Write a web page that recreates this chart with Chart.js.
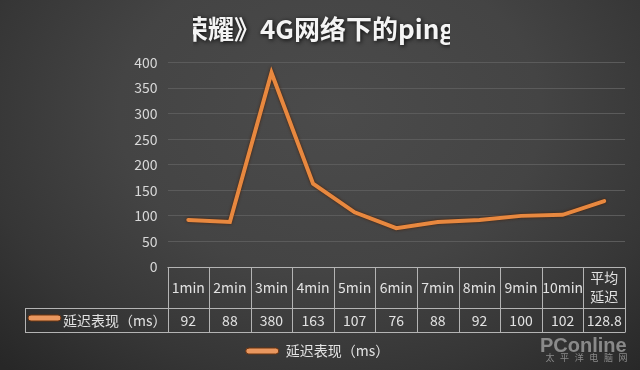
<!DOCTYPE html>
<html><head><meta charset="utf-8">
<script src="https://cdn.jsdelivr.net/npm/chart.js@4"></script>
<style>html,body{margin:0;padding:0;background:#2c2c2c;overflow:hidden}#wrap{width:640px;height:370px}</style>
</head><body><div id="wrap"><canvas id="c" width="640" height="370"></canvas></div>
<script>
// ---- data ----
const categories = ['1min','2min','3min','4min','5min','6min','7min','8min','9min','10min',['平均','延迟']];
const latency = [92, 88, 380, 163, 107, 76, 88, 92, 100, 102, 128.8];
const seriesName = '延迟表现（ms）';
const yMin = 0, yMax = 400, yStep = 50;
const titleFull = '《王者荣耀》4G网络下的ping值';
const titleHiddenPrefix = '《王者';
const watermark = 'PConline';
const watermarkSub = ['太','平','洋','电','脑','网'];

const F = "'Noto Sans CJK SC', 'Noto Sans', sans-serif";
const ORANGE = '#E8883F';
const TABLE_LINE = '#b4b4b4';
const TEXT = '#e2e2e2';

const bgPlugin = {
  id: 'bg',
  beforeDraw(chart) {
    const c = chart.ctx;
    c.save();
    c.setTransform(1, 0, 0, 0.75, 0, 0);
    const g = c.createRadialGradient(330, 150, 0, 330, 150, 470);
    g.addColorStop(0, '#4b4b4b');
    g.addColorStop(0.45, '#444444');
    g.addColorStop(0.75, '#363636');
    g.addColorStop(1, '#272727');
    c.fillStyle = g;
    c.fillRect(0, 0, 640, 370 / 0.75);
    c.restore();
  }
};

const lineShadow = {
  id: 'lineShadow',
  beforeDatasetDraw(chart) {
    const c = chart.ctx;
    c.save();
    c.shadowColor = 'rgba(70,28,4,0.95)';
    c.shadowBlur = 3;
  },
  afterDatasetDraw(chart) { chart.ctx.restore(); }
};

const titlePlugin = {
  id: 'clippedTitle',
  afterDraw(chart) {
    const c = chart.ctx;
    c.save();
    c.beginPath();
    c.rect(193, 0, 450 - 193, 60);
    c.clip();
    c.font = 'bold 26px ' + F;
    c.textBaseline = 'middle';
    c.textAlign = 'left';
    const x0 = 182 - c.measureText(titleHiddenPrefix).width;
    c.shadowColor = 'rgba(0,0,0,0.85)';
    c.shadowBlur = 4;
    c.shadowOffsetX = 1;
    c.shadowOffsetY = 1;
    c.fillStyle = '#f4f4f4';
    c.fillText(titleFull, x0, 29);
    c.restore();
  }
};

const tablePlugin = {
  id: 'dataTable',
  afterDraw(chart) {
    const c = chart.ctx;
    const xs = chart.scales.x;
    const area = chart.chartArea;
    const top = area.bottom, bottom = xs.bottom, mid = bottom - 24;
    const leftCell = 25;
    const n = chart.data.labels.length;
    c.save();
    c.strokeStyle = TABLE_LINE;
    c.lineWidth = 1;
    const h = (x1, x2, y) => { c.beginPath(); c.moveTo(x1, Math.round(y) + 0.5); c.lineTo(x2, Math.round(y) + 0.5); c.stroke(); };
    const v = (x, y1, y2) => { c.beginPath(); c.moveTo(Math.round(x) + 0.5, y1); c.lineTo(Math.round(x) + 0.5, y2); c.stroke(); };
    h(area.left, area.right, top);
    h(leftCell, area.right, mid);
    h(leftCell, area.right, bottom);
    v(leftCell, Math.round(mid) + 0.5, Math.round(bottom) + 0.5);
    for (let i = 0; i <= n; i++) {
      let x;
      if (i === 0) x = area.left;
      else if (i === n) x = area.right;
      else x = (xs.getPixelForValue(i - 1) + xs.getPixelForValue(i)) / 2;
      v(x, Math.round(top) + 0.5, Math.round(bottom) + 0.5);
    }
    // values row
    c.font = '14px ' + F;
    c.fillStyle = TEXT;
    c.textAlign = 'center';
    c.textBaseline = 'middle';
    const ds = chart.data.datasets[0];
    ds.data.forEach((val, i) => c.fillText(String(val), xs.getPixelForValue(i), (mid + bottom) / 2 + 0.5));
    // row header: swatch + label
    c.beginPath();
    c.roundRect(28, 315, 33, 6, 3);
    c.fillStyle = '#E9975F';
    c.fill();
    c.strokeStyle = '#6b3411';
    c.stroke();
    c.fillStyle = TEXT;
    c.textAlign = 'left';
    c.fillText(ds.label, 63, (mid + bottom) / 2 + 0.5);
    // watermark
    c.fillStyle = 'rgba(160,160,160,0.8)';
    c.font = 'bold 20px "Liberation Sans", Arial, sans-serif';
    c.textBaseline = 'alphabetic';
    c.fillText(watermark, 540, 352);
    c.font = '9px ' + F;
    c.textAlign = 'center';
    c.textBaseline = 'middle';
    watermarkSub.forEach((ch, i) => c.fillText(ch, 550 + i * 14.6, 358));
    c.restore();
  }
};

new Chart(document.getElementById('c'), {
  type: 'line',
  data: {
    labels: categories,
    datasets: [{
      label: seriesName,
      data: latency,
      borderColor: ORANGE,
      backgroundColor: ORANGE,
      borderWidth: 4,
      pointRadius: 0,
      tension: 0,
      borderJoinStyle: 'miter',
      borderCapStyle: 'round'
    }]
  },
  options: {
    responsive: false,
    animation: false,
    devicePixelRatio: 1,
    layout: { padding: { top: 62.5, left: 10, right: 15, bottom: 2 } },
    scales: {
      x: {
        offset: true,
        grid: { display: false, drawTicks: false },
        border: { display: false },
        ticks: {
          autoSkip: false, maxRotation: 0, minRotation: 0,
          padding: 11, crossAlign: 'center',
          color: TEXT, font: { family: F, size: 14, lineHeight: 1.35 }
        },
        afterFit: s => { s.height = 65; }
      },
      y: {
        min: yMin, max: yMax,
        ticks: { stepSize: yStep, padding: 10, color: '#d8d8d8', font: { family: F, size: 14 } },
        grid: { color: '#5b5b5b', drawTicks: false, lineWidth: 1 },
        border: { display: false },
        afterFit: s => { s.width = 157.5; }
      }
    },
    plugins: {
      legend: {
        position: 'bottom',
        labels: {
          boxWidth: 33, boxHeight: 6, padding: 12,
          useBorderRadius: true, borderRadius: 3,
          color: TEXT, font: { family: F, size: 14 },
          generateLabels: (chart) => Chart.defaults.plugins.legend.labels.generateLabels(chart).map(l => Object.assign(l, {
            fillStyle: '#E9975F', strokeStyle: '#6b3411', lineWidth: 1, borderRadius: 3
          }))
        }
      },
      tooltip: { enabled: false },
      title: { display: false }
    }
  },
  plugins: [bgPlugin, lineShadow, titlePlugin, tablePlugin]
});
</script>
</body></html>
